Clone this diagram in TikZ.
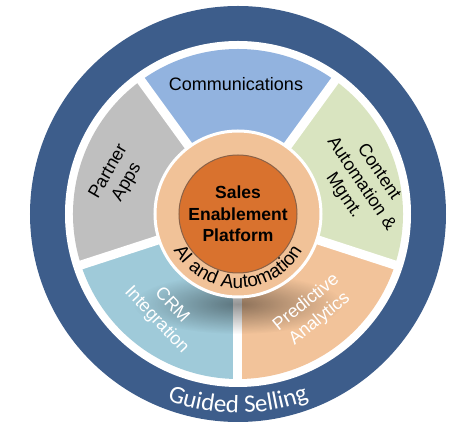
\documentclass[tikz,border=0pt]{standalone}
\usepackage{fontspec}
\setmainfont{Liberation Sans}
\newfontfamily\gsfont{Carlito}
\usetikzlibrary{decorations.text,fadings}
\definecolor{ringblue}{HTML}{3D5D8B}
\definecolor{commblue}{HTML}{92B3DF}
\definecolor{partgray}{HTML}{BFBFBF}
\definecolor{contgreen}{HTML}{D9E4C0}
\definecolor{crmblue}{HTML}{9FCAD9}
\definecolor{predpeach}{HTML}{F2C39A}
\definecolor{ringpeach}{HTML}{F1C298}
\definecolor{coreorange}{HTML}{D9722E}
\definecolor{coreedge}{HTML}{8A6248}
\tikzfading[name=softshadow, inner color=transparent!0, outer color=transparent!100]
\begin{document}
\begin{tikzpicture}[x=1pt,y=1pt,
  segtext/.style={font=\fontsize{18}{21}\selectfont, align=center, inner sep=0},
  gapline/.style={white, line width=9}]
\useasboundingbox (-238,-216) rectangle (236,214);
% outer ring
\fill[ringblue] (0,0) circle[radius=208];
\fill[white] (0,0) circle[radius=173];
% segments
\fill[commblue] (0,0) -- (54:165) arc[start angle=54,end angle=126,radius=165] -- cycle;
\fill[partgray] (0,0) -- (126:165) arc[start angle=126,end angle=198,radius=165] -- cycle;
\fill[crmblue] (0,0) -- (198:165) arc[start angle=198,end angle=270,radius=165] -- cycle;
\fill[predpeach] (0,0) -- (270:165) arc[start angle=270,end angle=342,radius=165] -- cycle;
\fill[contgreen] (0,0) -- (-18:165) arc[start angle=-18,end angle=54,radius=165] -- cycle;
\foreach \a in {54,126,198,270,342} \draw[gapline] (0,0) -- (\a:170);
% soft shadow
\fill[black,opacity=0.42,path fading=softshadow] (0,-90) ellipse[x radius=105, y radius=30];
% centre
\node[circle, fill=ringpeach, draw=white, line width=3, minimum size=166, inner sep=0] (ring) at (0,0) {};
\node[circle, fill=coreorange, draw=coreedge, line width=1, minimum size=118, inner sep=0] (core) at (0,0) {};
\node[font=\bfseries\fontsize{17.5}{21.5}\selectfont, align=center, inner sep=0] (sep) at (0,0) {Sales\\Enablement\\Platform};
\path[decorate, decoration={text along path, text={|\fontsize{19}{21}\selectfont|AI and Automation}, text align=center}]
  (195:74) arc[start angle=195,end angle=345,radius=74];
% segment labels
\node[segtext] (comm) at (-2,130) {Communications};
\node[segtext, rotate=60] (partner) at (-120,37) {Partner\\Apps};
\node[segtext, rotate=-56] (content) at (123,30) {Content\\Automation \&\\Mgmt.};
\node[segtext, rotate=-47, text=white] (crm) at (-74,-99) {CRM\\Integration};
\node[segtext, rotate=39, text=white] (pred) at (75,-97) {Predictive\\Analytics};
% guided selling
\path[decorate, decoration={text along path, text={|\gsfont\fontsize{25}{27}\selectfont\color{white}|Guided Selling}, text align=center}]
  (230:199) arc[start angle=230,end angle=310,radius=199];
\end{tikzpicture}
\end{document}
